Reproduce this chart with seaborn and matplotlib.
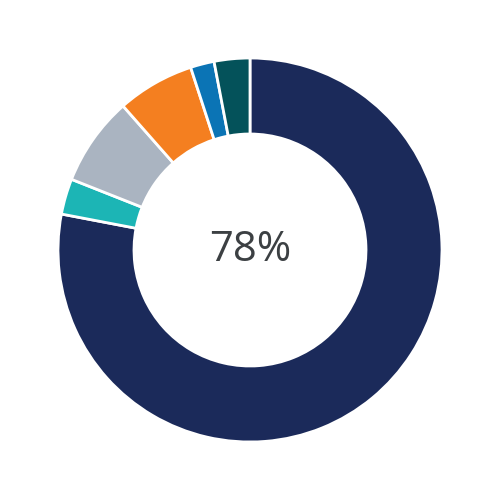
import matplotlib
matplotlib.use("Agg")
import matplotlib.pyplot as plt
import seaborn as sns

sns.set_theme(style="white")

labels = ["Navy", "Teal", "Gray", "Orange", "Blue", "Dark teal"]
shares = [78, 3, 7.5, 6.5, 2, 3]
colors = ["#1b2a5a", "#1cb5b5", "#aab4c1", "#f47f20", "#0b74b5", "#04525a"]
center_label = "78%"

fig, ax = plt.subplots(figsize=(5, 5), dpi=100)
ax.pie(shares, colors=colors, startangle=90, counterclock=False,
       radius=0.96,
       wedgeprops=dict(width=0.38, edgecolor="white", linewidth=2))
ax.text(0, 0, center_label, ha="center", va="center", fontsize=30,
        color="#3c4043", family=["Open Sans", "DejaVu Sans"])
ax.set_aspect("equal")
ax.set_xlim(-1.25, 1.25)
ax.set_ylim(-1.25, 1.25)
ax.axis("off")
fig.subplots_adjust(0, 0, 1, 1)
fig.savefig("out.png", facecolor="white")
